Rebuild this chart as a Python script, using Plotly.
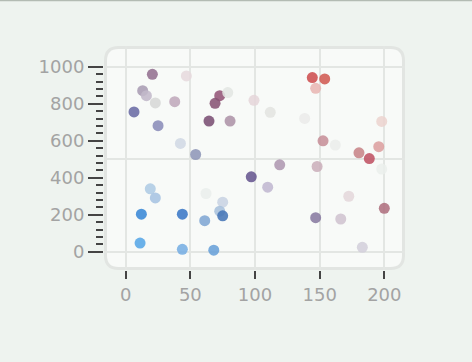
import plotly.graph_objects as go

# ---- data ----
x_values = [20.6, 46.9, 13.1, 16.0, 22.9, 37.9, 6.4, 25.0, 72.7, 78.9,
            69.1, 64.4, 80.7, 99.2, 111.8, 138.4, 144.3, 153.9, 146.9, 198.0,
            152.6, 162.1, 180.4, 188.4, 195.7, 198.0, 42.3, 54.1, 119.1, 148.0,
            97.1, 109.8, 19.0, 22.9, 62.1, 75.0, 72.7, 75.0, 61.1, 12.1,
            43.8, 11.1, 43.8, 68.1, 146.9, 166.3, 172.5, 200.0, 183.0]
y_values = [960, 951, 871, 844, 805, 812, 756, 682, 844, 861,
            803, 707, 707, 819, 754, 721, 942, 935, 884, 705,
            600, 577, 535, 504, 568, 447, 586, 526, 470, 461,
            405, 349, 340, 291, 315, 268, 219, 194, 168, 203,
            203, 47, 13, 8, 184, 177, 300, 235, 24]
point_colors = ["#93708f", "#e6dadd", "#a89cb3", "#c2b8c9", "#d6d7d6", "#bfa9bb",
                "#6a6ba4", "#8a8cb8", "#935476", "#e3e6e3", "#885474", "#7a4f73",
                "#ad93a7", "#e5d6d9", "#e3e4e0", "#ebebe9", "#cd4d4f", "#d05a52",
                "#e8b6b3", "#ecd4cf", "#c68f99", "#ebedea", "#c78487", "#bf5263",
                "#dc9f9f", "#ebefec", "#d0d8e4", "#8e96b7", "#ae97b0", "#cbafbb",
                "#67578f", "#c0b7d0", "#aecbe4", "#a6c3e1", "#e9eeec", "#c8d3e3",
                "#a7c0dc", "#4675b6", "#7fa6d3", "#3987d6", "#3a78c6", "#56a6e6",
                "#76aee3", "#68a0d8", "#887aa0", "#cfc3cf", "#e4d7db", "#ae6f7e",
                "#d3cfdb"]

x_ticks = [0, 50, 100, 150, 200]
y_ticks = [0, 200, 400, 600, 800, 1000]
y_minor_ticks = [v for v in range(0, 1001, 40) if v % 200 != 0]
y_grid_step = 500

x_range = [-16.8, 216]
y_range = [-99, 1113]

paper = "#eef3ef"
inner = "#f8faf8"
border = "#e2e5e2"
grid = "#e3e6e3"
tick_col = "#444444"
label_col = "#a3a3a3"
font_family = "DejaVu Sans"

fig = go.Figure()
fig.add_trace(go.Scatter(
    x=x_values, y=y_values, mode="markers",
    marker=dict(size=11, color=point_colors, opacity=0.88, line=dict(width=0)),
    hoverinfo="skip", showlegend=False,
))
# empty trace to activate the overlay axis used for horizontal gridlines
fig.add_trace(go.Scatter(x=[], y=[], yaxis="y2", showlegend=False, hoverinfo="skip"))

L, R, T, B = 104, 67, 46, 92
W = 472 - L - R
H = 362 - T - B

fig.update_layout(
    width=472, height=362,
    margin=dict(l=L, r=R, t=T, b=B, pad=0),
    paper_bgcolor=paper, plot_bgcolor=paper,
    font=dict(family=font_family, size=18, color=label_col),
    xaxis=dict(range=x_range, tickmode="array", tickvals=x_ticks,
               ticks="outside", ticklen=8, tickwidth=2, tickcolor=tick_col,
               showgrid=True, gridcolor=grid, gridwidth=2,
               zeroline=False, showline=False,
               tickfont=dict(size=18, color=label_col)),
    yaxis=dict(range=y_range, tickmode="array", tickvals=y_ticks,
               ticks="outside", ticklen=15, tickwidth=2, tickcolor=tick_col,
               showgrid=False, zeroline=False, showline=False,
               tickfont=dict(size=18, color=label_col),
               minor=dict(tickmode="array", tickvals=y_minor_ticks,
                          ticks="outside", ticklen=7, tickwidth=2,
                          tickcolor=tick_col, showgrid=False)),
    yaxis2=dict(range=y_range, overlaying="y", tick0=0, dtick=y_grid_step,
                showgrid=True, gridcolor=grid, gridwidth=2,
                showticklabels=False, ticks="", zeroline=False, showline=False),
)

# rounded plot panel
ix, iy = 1.5 / W, 1.5 / H
rx, ry = 13 / W, 13 / H
x0, x1, y0, y1 = ix, 1 - ix, iy, 1 - iy
path = (f"M {x0+rx},{y0} L {x1-rx},{y0} Q {x1},{y0} {x1},{y0+ry} "
        f"L {x1},{y1-ry} Q {x1},{y1} {x1-rx},{y1} L {x0+rx},{y1} "
        f"Q {x0},{y1} {x0},{y1-ry} L {x0},{y0+ry} Q {x0},{y0} {x0+rx},{y0} Z")
fig.add_shape(type="path", path=path, xref="paper", yref="paper",
              fillcolor=inner, line=dict(color=border, width=3), layer="below")

# thin line at the very top of the page
fig.add_shape(type="line", xref="paper", yref="paper",
              x0=-L / W, x1=1 + R / W, y0=1 + (T - 0.5) / H, y1=1 + (T - 0.5) / H,
              line=dict(color="#b3bbb3", width=1.5))

fig.write_html("out.html")
